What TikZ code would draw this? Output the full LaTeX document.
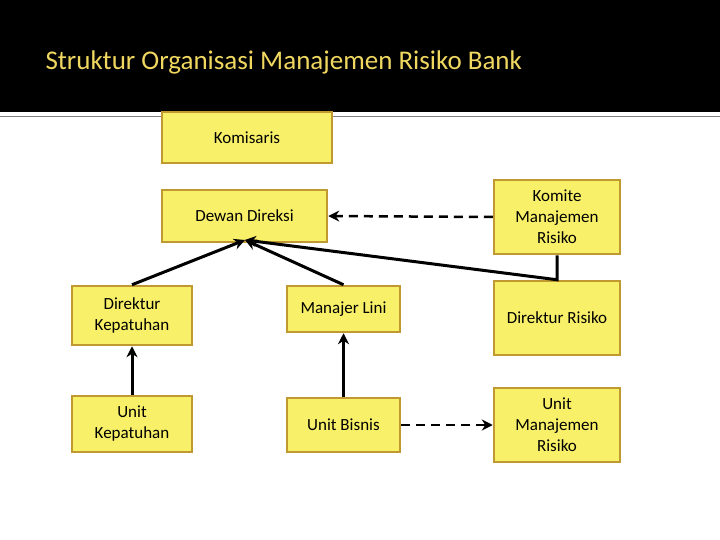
\documentclass[tikz,border=0pt]{standalone}
\usepackage{fontspec}
\setmainfont{Carlito}
\usetikzlibrary{arrows.meta}
\definecolor{boxfill}{HTML}{F8F068}
\definecolor{boxline}{HTML}{C09A30}
\definecolor{titlec}{HTML}{F0D860}
\begin{document}
\begin{tikzpicture}[x=1pt,y=-1pt,
 box/.style={draw=boxline,line width=2.5pt,fill=boxfill,align=center,font=\fontsize{17}{21}\selectfont,inner sep=0pt},
 arr/.style={line width=3pt,-{Stealth[length=11pt,width=11pt]}},
 dsh/.style={line width=2.5pt,dash pattern=on 9pt off 6pt,-{Stealth[length=11pt,width=11pt]}}]
\useasboundingbox (0,0) rectangle (720,540);
\fill[black] (0,0) rectangle (720,112);
\draw[gray,line width=1pt] (0,117) -- (720,117);
\node[anchor=west,text=titlec,font=\fontsize{27}{32}\selectfont] (title) at (42,62) {Struktur Organisasi Manajemen Risiko Bank};
\newcommand{\bx}[6]{\node[box,minimum width=#4-#2,minimum height=#5-#3] (#1) at ({(#2+#4)/2},{(#3+#5)/2}) {#6};}
\bx{kom}{162}{112}{332}{163}{Komisaris}
\bx{dew}{162}{190}{327}{242}{Dewan Direksi}
\bx{kmr}{494}{180}{620}{254}{Komite\\Manajemen\\Risiko}
\bx{dk}{72}{286}{192}{345}{Direktur\\Kepatuhan}
\bx{ml}{287}{286}{400}{332}{Manajer Lini}
\bx{dr}{494}{281}{620}{355}{Direktur Risiko}
\bx{uk}{72}{396}{192}{452}{Unit\\Kepatuhan}
\bx{ub}{287}{398}{400}{452}{Unit Bisnis}
\bx{umr}{494}{388}{620}{462}{Unit\\Manajemen\\Risiko}
\coordinate (t) at (245,240);
\draw[arr] (dk.north) -- (t);
\draw[arr] (ml.north) -- (t);
\draw[arr] (kmr.south) -- (dr.north) -- (t);
\draw[dsh] (kmr.west) -- (dew.east);
\draw[dsh] (ub.east) -- (umr.west);
\draw[arr] (uk.north) -- (dk.south);
\draw[arr] (ub.north) -- (ml.south);
\end{tikzpicture}
\end{document}
